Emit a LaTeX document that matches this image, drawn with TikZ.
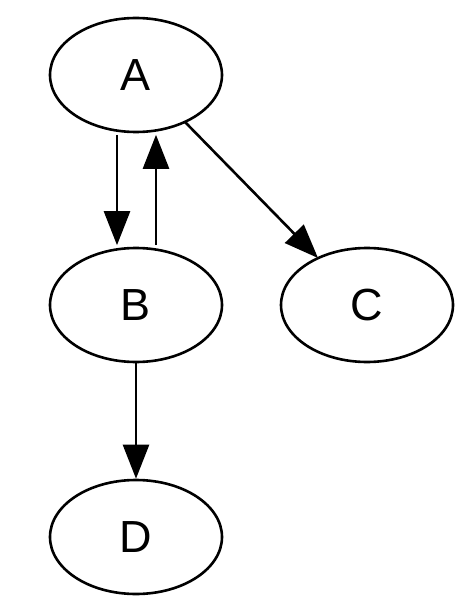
\documentclass[tikz,border=0pt]{standalone}
\usepackage{fontspec}
\setmainfont{Liberation Sans}
\usetikzlibrary{shapes.geometric,arrows.meta,calc}
\begin{document}
\begin{tikzpicture}[x=1pt,y=-1pt,
  nodeell/.style={draw,line width=2.6pt,ellipse,minimum width=172pt,minimum height=114pt,inner sep=0pt,font=\fontsize{45}{50}\selectfont},
  edge/.style={line width=2.6pt,-{Triangle[length=34pt,width=26pt]}}]
\useasboundingbox (0,0) rectangle (474,612);
\node[nodeell] (A) at (136,75) {A};
\node[nodeell] (B) at (136,305) {B};
\node[nodeell] (C) at (367,305) {C};
\node[nodeell] (D) at (136,537) {D};
\draw[edge] ([xshift=-19pt,yshift=-1.5pt]A.south) -- ([xshift=-19pt,yshift=1.5pt]B.north);
\draw[edge] ([xshift=20pt,yshift=1.5pt]B.north) -- ([xshift=20pt,yshift=-1.5pt]A.south);
\draw[edge] ($(A.center)+(49,47)$) -- ($(C.center)+(-49,-47)$);
\draw[edge] (B.south) -- (D.north);
\end{tikzpicture}
\end{document}
